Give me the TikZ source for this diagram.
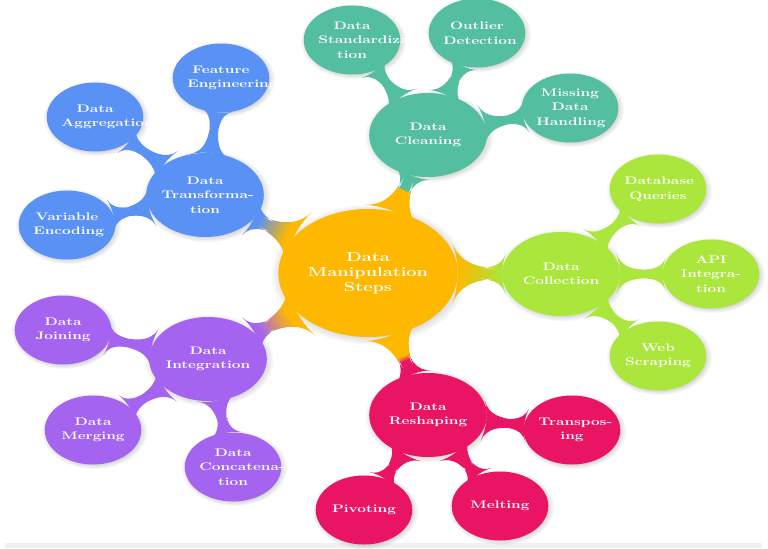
\documentclass[tikz,border=0pt]{standalone}
\usepackage{fontspec}
\usetikzlibrary{mindmap,shadows}
\definecolor{corange}{RGB}{255,184,0}
\definecolor{cblue}{RGB}{90,145,245}
\definecolor{cteal}{RGB}{84,190,160}
\definecolor{clime}{RGB}{170,230,60}
\definecolor{cred}{RGB}{234,20,100}
\definecolor{cpurple}{RGB}{165,100,240}
\newcommand\rootfont{\fontsize{13}{15}\selectfont\bfseries}
\newcommand\leaffont{\fontsize{11}{14.5}\selectfont\bfseries}
\begin{document}
\begin{tikzpicture}[x=0.714286pt,y=-1pt,xscale=1.4,transform shape,
  cnode/.style={circle, inner sep=0pt, outer sep=0pt, text=white, align=center,
    circular drop shadow={shadow xshift=1pt, shadow yshift=-1pt, opacity=0.35}},
  rootc/.style={cnode, fill=corange, minimum size=128pt, text width=100pt, font=\rootfont},
  lone/.style={cnode, minimum size=84pt, text width=62pt, font=\leaffont},
  ltwo/.style={cnode, minimum size=69pt, text width=48pt, font=\leaffont},
  conn/.style args={#1 to #2}{circle connection bar switch color=from (#1) to (#2), line width=9pt},
]
\useasboundingbox (0,0) rectangle (768,548);
\fill[gray!12] (5,543) rectangle (762,548);

\node[rootc] (root) at (368,273) {Data\\Manipulation\\Steps};
\node[lone, fill=cblue] (trans) at (205,195) {Data\\\mbox{Transforma-}\\tion};
\node[lone, fill=cteal] (clean) at (428,135) {Data\\Cleaning};
\node[lone, fill=clime] (coll) at (561,274) {Data\\Collection};
\node[lone, fill=cred] (resh) at (428,415) {Data\\Reshaping};
\node[lone, fill=cpurple] (integ) at (208,359) {Data\\Integration};

\node[ltwo, fill=cblue] (feat) at (221,78) {Feature\\Engineering};
\node[ltwo, fill=cblue] (aggr) at (95,117) {Data\\Aggregation};
\node[ltwo, fill=cblue] (venc) at (67,225) {Variable\\Encoding};
\node[ltwo, fill=cteal] (stdz) at (352,40) {Data\\\mbox{Standardiza-}\\tion};
\node[ltwo, fill=cteal] (outl) at (477,33) {Outlier\\Detection};
\node[ltwo, fill=cteal] (miss) at (570,108) {Missing\\Data\\Handling};
\node[ltwo, fill=clime] (dbq) at (658,189) {Database\\Queries};
\node[ltwo, fill=clime] (api) at (711,274) {API\\\mbox{Integra-}\\tion};
\node[ltwo, fill=clime] (web) at (658,356) {Web\\Scraping};
\node[ltwo, fill=cred] (trsp) at (572,430) {\mbox{Transpos-}\\ing};
\node[ltwo, fill=cred] (melt) at (500,506) {Melting};
\node[ltwo, fill=cred] (pivot) at (364,510) {Pivoting};
\node[ltwo, fill=cpurple] (join) at (63,330) {Data\\Joining};
\node[ltwo, fill=cpurple] (merg) at (93,430) {Data\\Merging};
\node[ltwo, fill=cpurple] (conc) at (233,467) {Data\\\mbox{Concatena-}\\tion};

\path (root) to[conn=corange to cblue] (trans);
\path (root) to[conn=corange to cteal] (clean);
\path (root) to[conn=corange to clime] (coll);
\path (root) to[conn=corange to cred] (resh);
\path (root) to[conn=corange to cpurple] (integ);
\path (trans) to[conn=cblue to cblue] (feat);
\path (trans) to[conn=cblue to cblue] (aggr);
\path (trans) to[conn=cblue to cblue] (venc);
\path (clean) to[conn=cteal to cteal] (stdz);
\path (clean) to[conn=cteal to cteal] (outl);
\path (clean) to[conn=cteal to cteal] (miss);
\path (coll) to[conn=clime to clime] (dbq);
\path (coll) to[conn=clime to clime] (api);
\path (coll) to[conn=clime to clime] (web);
\path (resh) to[conn=cred to cred] (trsp);
\path (resh) to[conn=cred to cred] (melt);
\path (resh) to[conn=cred to cred] (pivot);
\path (integ) to[conn=cpurple to cpurple] (join);
\path (integ) to[conn=cpurple to cpurple] (merg);
\path (integ) to[conn=cpurple to cpurple] (conc);
\end{tikzpicture}
\end{document}
